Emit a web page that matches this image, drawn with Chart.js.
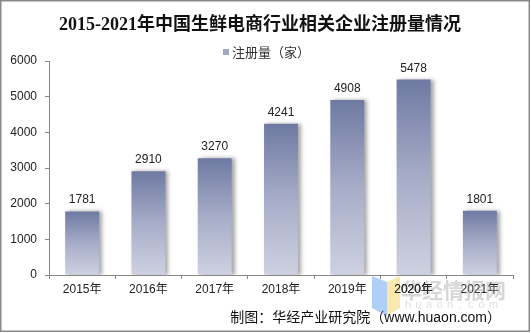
<!DOCTYPE html>
<html>
<head>
<meta charset="utf-8">
<script src="https://cdn.jsdelivr.net/npm/chart.js@4.4.1/dist/chart.umd.min.js"></script>
<style>
  html, body { margin: 0; padding: 0; background: #fff; }
  #wrap { width: 531px; height: 333px; }
</style>
</head>
<body>
<div id="wrap"><canvas id="regChart" width="531" height="333"></canvas></div>
<script>
const years = ["2015年", "2016年", "2017年", "2018年", "2019年", "2020年", "2021年"];
const counts = [1781, 2910, 3270, 4241, 4908, 5478, 1801];
const seriesName = "注册量（家）";
const chartTitle = "2015-2021年中国生鲜电商行业相关企业注册量情况";
const sourceNote = "制图：华经产业研究院（www.huaon.com）";
const yMax = 6000;
const yStep = 1000;

const latinCjk = '"Liberation Sans", "Noto Sans CJK SC", sans-serif';

// each bar fades from slate blue at its top to pale lilac at the axis
function barGradient(ctx) {
  const chart = ctx.chart;
  if (!chart.chartArea || ctx.type !== "data") return "#8f97b8";
  const y = chart.scales.y;
  const top = y.getPixelForValue(ctx.raw);
  const bottom = y.getPixelForValue(0);
  const g = chart.ctx.createLinearGradient(0, top, 0, bottom);
  g.addColorStop(0, "#6e7aa2");
  g.addColorStop(0.5, "#a7adc8");
  g.addColorStop(1, "#ced1e1");
  return g;
}

const barShadow = {
  id: "barShadow",
  beforeDatasetsDraw(chart) {
    const c = chart.ctx;
    c.save();
    c.shadowColor = "rgba(0,0,0,0.35)";
    c.shadowBlur = 4;
    c.shadowOffsetX = 3;
    c.shadowOffsetY = 0;
  },
  afterDatasetsDraw(chart) {
    chart.ctx.restore();
    // value above each bar
    const c = chart.ctx;
    const meta = chart.getDatasetMeta(0);
    c.save();
    c.font = "12px " + latinCjk;
    c.fillStyle = "#222";
    c.textAlign = "center";
    c.textBaseline = "alphabetic";
    meta.data.forEach((bar, i) => {
      c.fillText(String(chart.data.datasets[0].data[i]), bar.x, bar.y - 8);
    });
    c.restore();
  },
};

const decor = {
  id: "decor",
  beforeDraw(chart) {
    const c = chart.ctx;
    c.save();
    c.fillStyle = "#fff";
    c.fillRect(0, 0, chart.width, chart.height);
    c.restore();
  },
  afterDraw(chart) {
    const c = chart.ctx;
    c.save();

    // title
    c.fillStyle = "#111";
    c.font = 'bold 18px "Liberation Serif", "Noto Sans CJK SC", serif';
    c.textAlign = "center";
    c.textBaseline = "middle";
    c.fillText(chartTitle, 260, 25);

    // legend
    const ds = chart.data.datasets[0];
    c.fillStyle = "#a4a9c2";
    c.fillRect(223, 49, 6, 6);
    c.fillStyle = "#333";
    c.font = '13px "Noto Sans CJK SC", sans-serif';
    c.textAlign = "left";
    c.fillText(ds.label, 232, 52);

    // watermark logo + text
    c.globalAlpha = 0.55;
    c.fillStyle = "#6fa8f0";
    c.beginPath();
    c.moveTo(372, 276); c.lineTo(387, 282); c.lineTo(387, 316); c.lineTo(372, 308);
    c.closePath(); c.fill();
    c.fillStyle = "#f5d76e";
    c.beginPath();
    c.moveTo(387, 282); c.lineTo(400, 276); c.lineTo(400, 308); c.lineTo(387, 316);
    c.closePath(); c.fill();
    c.globalAlpha = 0.4;
    c.fillStyle = "#9a9a9a";
    c.font = 'bold 21px "Noto Sans CJK SC", sans-serif';
    c.textAlign = "left";
    c.fillText("华经情报网", 401, 290);
    c.font = '11px "Liberation Sans", sans-serif';
    c.fillStyle = "#b0b0b0";
    const wm = "huaon.com";
    for (let i = 0; i < wm.length; i++) c.fillText(wm[i], 405 + i * 10.5, 305);
    c.globalAlpha = 1;

    // category label that sits over the watermark
    const xs = chart.scales.x;
    c.fillStyle = "#222";
    c.font = "12px " + latinCjk;
    c.textAlign = "center";
    c.fillText(years[5], xs.getPixelForValue(5), 290);

    // source line
    c.fillStyle = "#111";
    c.font = "14px " + latinCjk;
    c.textAlign = "right";
    c.fillText(sourceNote, 501, 318);

    // frame
    c.strokeStyle = "#8a8a8a";
    c.lineWidth = 1.5;
    c.strokeRect(0.75, 0.75, chart.width - 2.5, chart.height - 2.5);
    c.restore();
  },
};

new Chart(document.getElementById("regChart"), {
  type: "bar",
  data: {
    labels: years,
    datasets: [
      {
        label: seriesName,
        data: counts,
        backgroundColor: barGradient,
        borderWidth: 0,
        categoryPercentage: 1,
        barPercentage: 0.512,
      },
    ],
  },
  options: {
    responsive: false,
    animation: false,
    devicePixelRatio: 1,
    layout: { padding: { top: 61, right: 18, bottom: 0, left: 0 } },
    plugins: {
      legend: { display: false },
      title: { display: false },
      tooltip: { enabled: false },
    },
    scales: {
      x: {
        grid: { display: true, drawOnChartArea: false, tickLength: 4, color: "#888", offset: true },
        border: { color: "#888" },
        ticks: { color: "#222", font: { size: 12, family: latinCjk }, padding: 3 },
        afterFit(s) { s.height = 58; },
      },
      y: {
        min: 0,
        max: yMax,
        ticks: {
          stepSize: yStep,
          color: "#222",
          font: { size: 12, family: latinCjk },
          padding: 8,
          callback: (v) => String(v),
        },
        grid: { display: true, drawOnChartArea: false, tickLength: 4, color: "#888" },
        border: { color: "#888" },
        afterFit(s) { s.width = 49; },
      },
    },
  },
  plugins: [barShadow, decor],
});
</script>
</body>
</html>
